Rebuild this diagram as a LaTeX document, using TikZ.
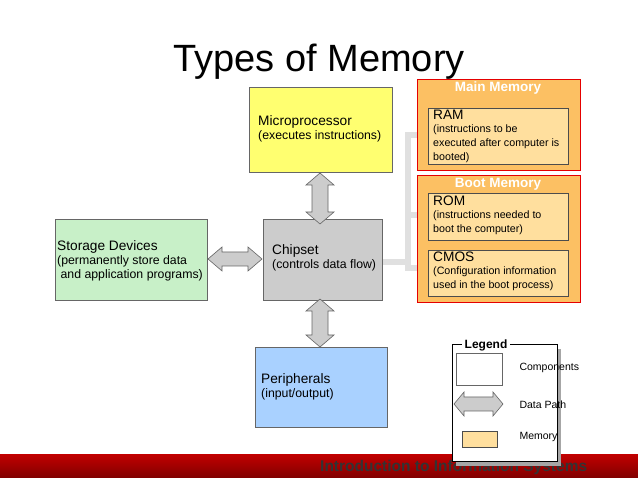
\documentclass[tikz,border=0pt]{standalone}
\usepackage{fontspec}
\setmainfont{Liberation Sans}
\usetikzlibrary{calc}
\newcommand\subtxt{\fontsize{12.3}{15}\selectfont}
\newcommand\memtxt{\fontsize{10.7}{13}\selectfont}
\definecolor{memout}{HTML}{FCC063}
\definecolor{memin}{HTML}{FFDF9E}
\definecolor{periph}{HTML}{A9D1FF}
\definecolor{stor}{HTML}{C8F0C8}
\definecolor{micro}{HTML}{FFFF70}
% vertical double arrow: center x, top y, bottom y
\newcommand\darrV[3]{\draw[dpath] (#1-8,#2+12) -- (#1-14,#2+12) -- (#1,#2) -- (#1+14,#2+12) -- (#1+8,#2+12) -- (#1+8,#3-12) -- (#1+14,#3-12) -- (#1,#3) -- (#1-14,#3-12) -- (#1-8,#3-12) -- cycle;}
\newcommand\darrH[4]{\draw[dpath] (#2+#4,#1-7) -- (#2+#4,#1-12) -- (#2,#1) -- (#2+#4,#1+12) -- (#2+#4,#1+7) -- (#3-#4,#1+7) -- (#3-#4,#1+12) -- (#3,#1) -- (#3-#4,#1-12) -- (#3-#4,#1-7) -- cycle;}
\begin{document}
\begin{tikzpicture}[x=1pt,y=-1pt,
  comp/.style={draw=black!60,line width=0.6pt,anchor=north west,inner sep=0pt},
  lbl/.style={anchor=north west,align=left,inner sep=0pt,font=\fontsize{13.7}{16}\selectfont},
  memo/.style={draw=red!90!black,line width=1.2pt,fill=memout,anchor=north west,inner sep=0pt},
  memi/.style={draw=black!70,line width=0.6pt,fill=memin,anchor=north west,inner sep=0pt},
  mtitle/.style={text=white,font=\bfseries\fontsize{13.5}{15}\selectfont},
  dpath/.style={draw=black!60,fill=black!20,line width=0.6pt,line join=miter},
  bus/.style={draw=black!12,line width=6pt}]
\useasboundingbox (0,0) rectangle (638,478);
\fill[white] (0,0) rectangle (638,478);
% bottom bar
\shade[top color=red!75!black,bottom color=red!50!black] (0,455) rectangle (638,478);
\node[font=\bfseries\fontsize{15.5}{17}\selectfont,text=black!80,anchor=west,inner sep=0pt] (foot) at (320,467) {Introduction to Information Systems};
\node[font=\fontsize{38}{42}\selectfont] (title) at (319,62) {Types of Memory};
% gray bus
\draw[bus] (382,262) -- (410,262);
\draw[bus] (408,135) -- (408,268);
\draw[bus] (405,135) -- (418,135);
\draw[bus] (405,215) -- (418,215);
\draw[bus] (405,268) -- (418,268);
% components
\node[comp,fill=micro,minimum width=143pt,minimum height=85pt] (mp) at (249,87) {};
\node[lbl] at (258,115) {Microprocessor\\[-2pt]\subtxt (executes instructions)};
\node[comp,fill=black!20,minimum width=119pt,minimum height=81pt] (cs) at (263,219) {};
\node[lbl] at (272,244) {Chipset\\[-2pt]\subtxt (controls data flow)};
\node[comp,fill=stor,minimum width=152pt,minimum height=81pt] (sd) at (55,219) {};
\node[lbl] at (57,240) {Storage Devices\\[-2pt]\subtxt (permanently store data\\[-2pt]\subtxt \ and application programs)};
\node[comp,fill=periph,minimum width=132pt,minimum height=80pt] (pe) at (255,347) {};
\node[lbl] at (261,373) {Peripherals\\[-2pt]\subtxt (input/output)};
% memories
\node[memo,minimum width=163pt,minimum height=91pt] (mm) at (417,79) {};
\node[mtitle] at (498,88) {Main Memory};
\node[memi,minimum width=140pt,minimum height=56pt] (ram) at (428,108) {};
\node[lbl] at (433,110) {RAM\\[-3pt]\memtxt (instructions to be\\[-2pt]\memtxt executed after computer is\\[-2pt]\memtxt booted)};
\node[memo,minimum width=163pt,minimum height=127pt] (bm) at (417,175) {};
\node[mtitle] at (498,184) {Boot Memory};
\node[memi,minimum width=140pt,minimum height=47pt] (rom) at (428,193) {};
\node[lbl] at (433,196) {ROM\\[-3pt]\memtxt (instructions needed to\\[-2pt]\memtxt boot the computer)};
\node[memi,minimum width=140pt,minimum height=46pt] (cmos) at (428,250) {};
\node[lbl] at (433,252) {CMOS\\[-3pt]\memtxt (Configuration information\\[-2pt]\memtxt used in the boot process)};
% data paths
\darrV{320}{173}{224}
\darrH{259}{208}{262}{14}
\darrV{320}{299}{347}
% legend
\fill[black!35] (456,349) rectangle (561,466);
\draw[line width=1pt,fill=white] (452,345) rectangle (557,462);
\node[fill=white,font=\bfseries\fontsize{12}{13}\selectfont,inner sep=3pt] (lg) at (486,345) {Legend};
\node[comp,minimum width=46pt,minimum height=32pt] (l1) at (456,353) {};
\darrH{404}{454}{503}{10}
\node[memi,minimum width=35pt,minimum height=16pt] (l3) at (462,431) {};
\node[anchor=west,font=\fontsize{10.5}{12}\selectfont] at (516,368) {Components};
\node[anchor=west,font=\fontsize{10.5}{12}\selectfont] at (516,405) {Data Path};
\node[anchor=west,font=\fontsize{10.5}{12}\selectfont] at (516,437) {Memory};
\end{tikzpicture}
\end{document}
